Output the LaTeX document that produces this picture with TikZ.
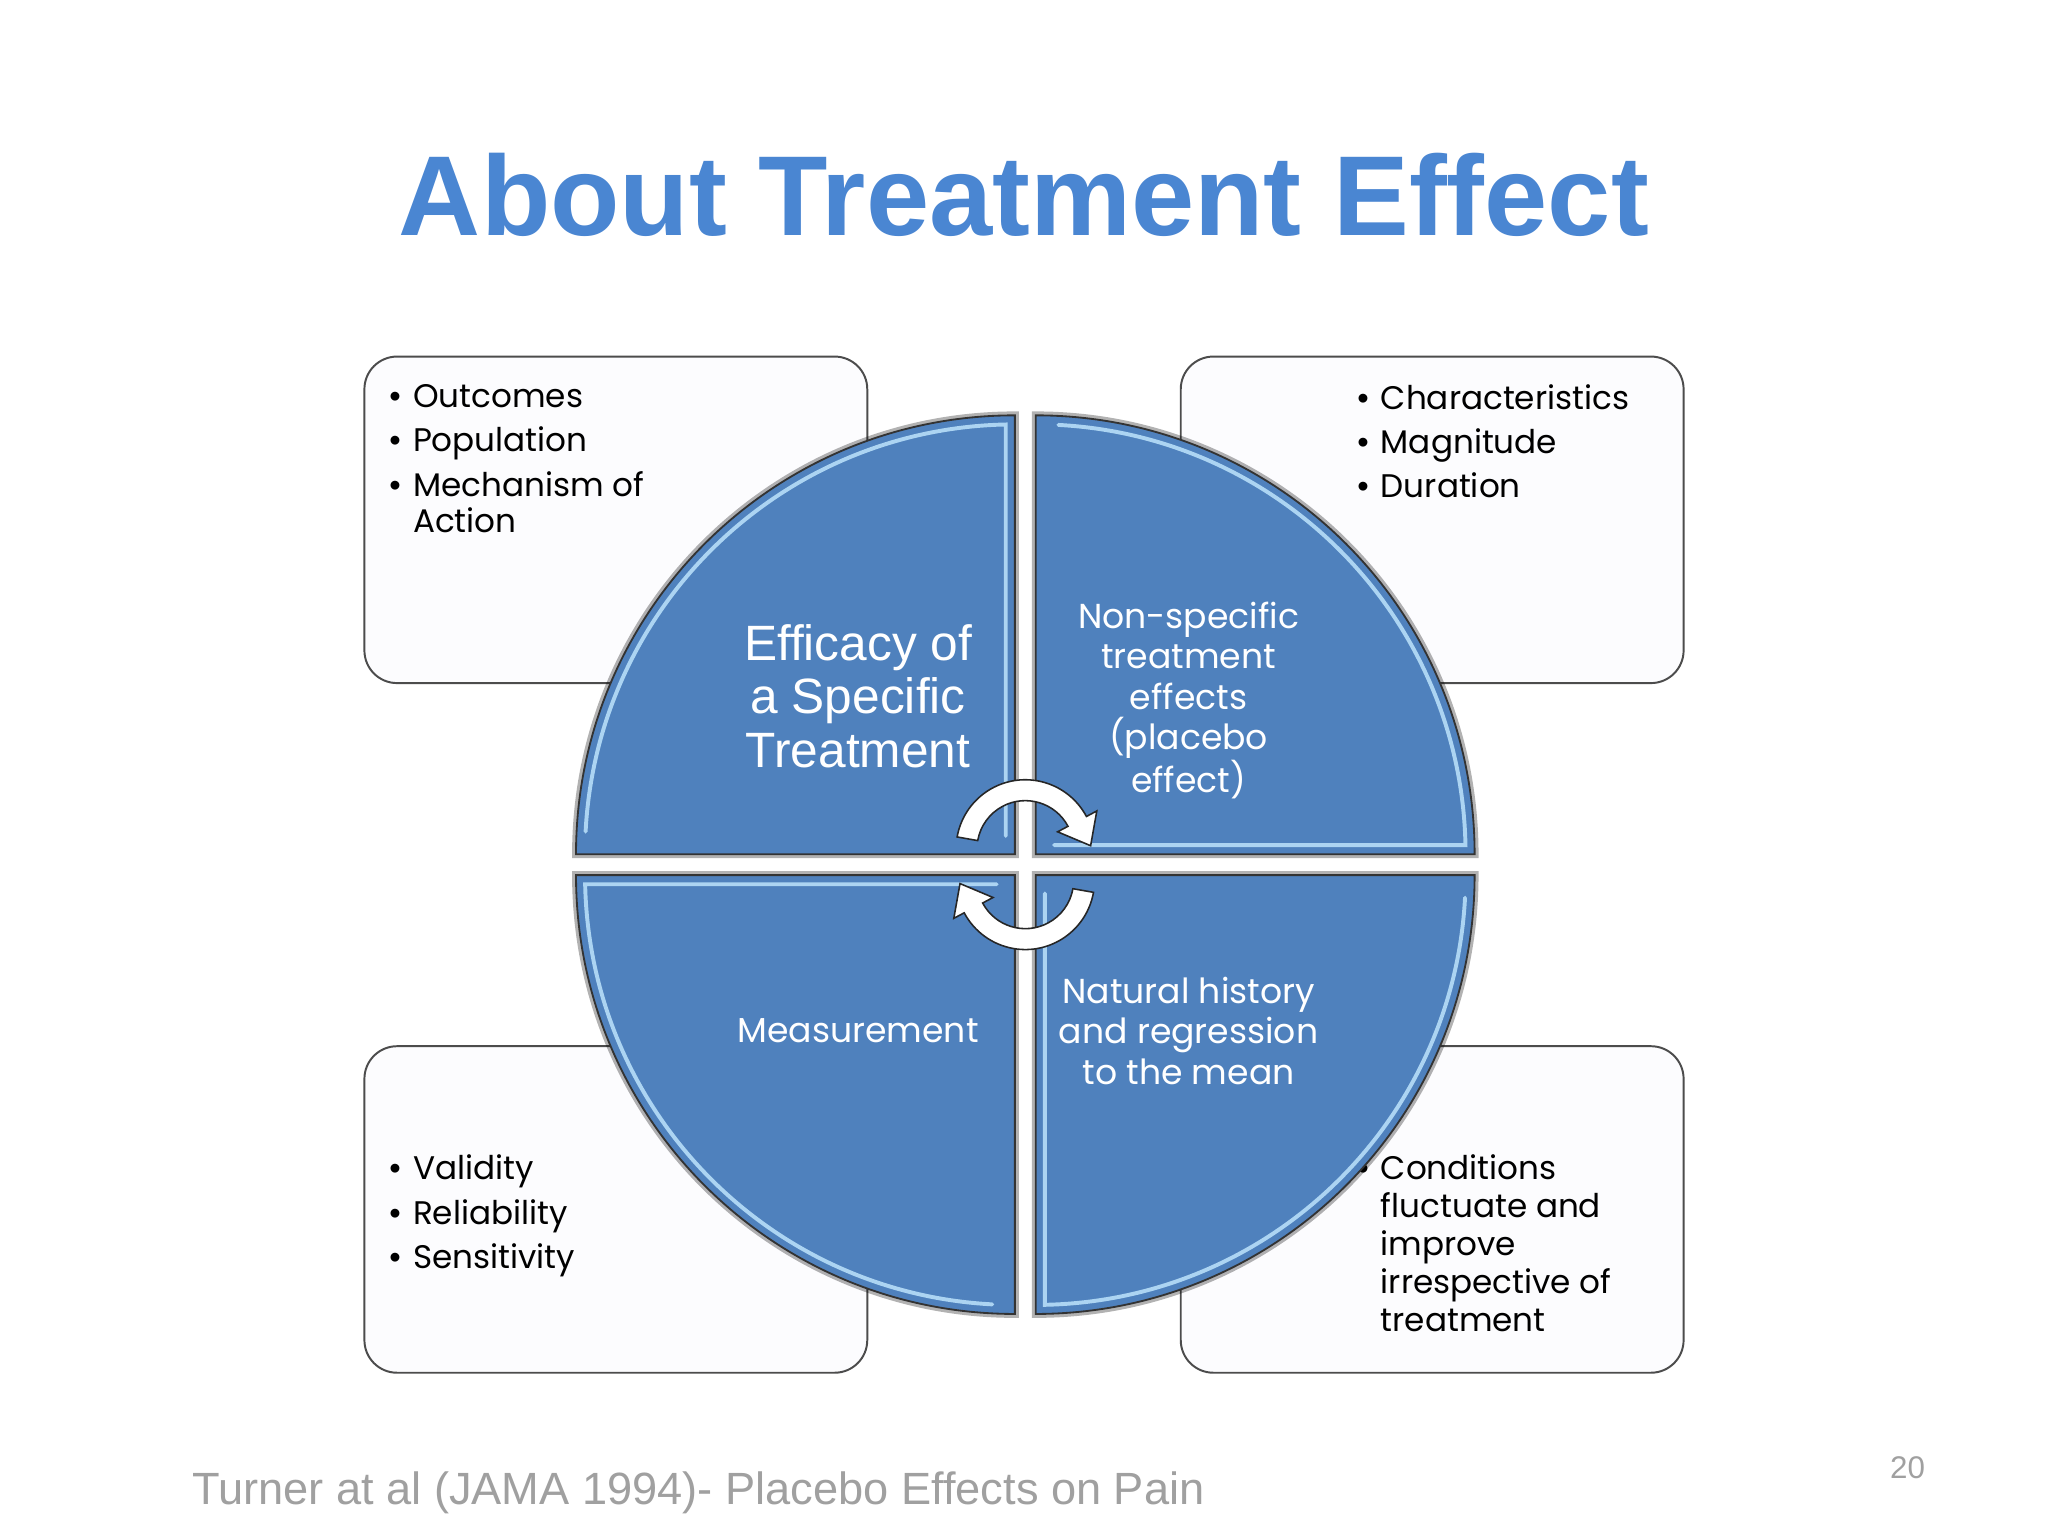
\documentclass[tikz,border=0pt]{standalone}
\usepackage{fontspec}
\setmainfont{Liberation Sans}
\newfontfamily\gothic{Poppins}
\usetikzlibrary{positioning}

\definecolor{titleblue}{RGB}{74,134,210}
\definecolor{sliceblue}{RGB}{79,129,189}
\definecolor{edgelight}{RGB}{172,212,242}
\definecolor{footgrey}{RGB}{160,160,160}
\definecolor{boxfill}{RGB}{252,252,254}

\newcommand\bul{\makebox[18pt][l]{\rmfamily\textbullet}}
\newcommand\cont{\hspace*{18pt}}

\tikzset{
  infobox/.style={draw=black!70, line width=1.5, fill=boxfill, rounded corners=25,
    minimum width=385, minimum height=250},
  listtext/.style={anchor=north west, inner sep=0, align=left,
    font=\gothic\fontsize{25}{28}\selectfont},
  slicetext/.style={text=white, align=center, inner sep=0,
    font=\gothic\fontsize{26.5}{31}\selectfont}
}

\begin{document}
\begin{tikzpicture}[x=1pt,y=1pt]
\useasboundingbox (0,0) rectangle (1568,1176);
\fill[white] (0,0) rectangle (1568,1176);

\def\slice#1;{%
    \begin{scope}[shift={(785,514)},rotate=#1]
        \draw[black, opacity=0.3, line width=6] (8,8) -- (344,8) arc (0:90:336) -- cycle;
        \filldraw[fill=sliceblue, draw=black!80, line width=1.4]
            (8,8) -- (344,8) arc (0:90:336) -- cycle;
        \draw[edgelight, line width=3, line cap=round] (22,15) -- (337,15) arc (1.2:87:329);
    \end{scope}}
\def\turn#1;{%
    \begin{scope}[shift={(785,514)},rotate=#1]
        \filldraw[fill=white, draw=black!85, line width=1.2]
            ([shift={(0,12)}]170:53) arc (170:28:53) -- ([shift={(0,12)}]28:62) --
            (50,14.5) -- ([shift={(0,12)}]28:28) -- ([shift={(0,12)}]28:37) arc (28:170:37) -- cycle;
    \end{scope}}

\node (title) [anchor=base, text=titleblue, font=\bfseries\fontsize{87}{90}\selectfont]
    at (784,996) {About Treatment Effect};

% the four boxes behind the circle
\node (tlbox) [infobox] at (471.5,778) {};
\node (trbox) [infobox] at (1096.5,778) {};
\node (blbox) [infobox] at (471.5,250) {};
\node (brbox) [infobox] at (1096.5,250) {};

\node (tllist) [listtext] at (298,882) {\bul Outcomes\\[6pt]\bul Population\\[6pt]\bul Mechanism of\\\cont Action};
\node (trlist) [listtext] at (1039,882) {\bul Characteristics\\[6pt]\bul Magnitude\\[6pt]\bul Duration};
\node (bllist) [listtext] at (298,292) {\bul Validity\\[6pt]\bul Reliability\\[6pt]\bul Sensitivity};
\node (brlist) [listtext, font=\gothic\fontsize{25}{29}\selectfont] at (1039,292)
    {\bul Conditions\\\cont fluctuate and\\\cont improve\\\cont irrespective of\\\cont treatment};

% circle in four slices
\slice0;
\slice90;
\slice180;
\slice270;

\node (efficacy) [text=white, align=center, inner sep=0, font=\fontsize{38}{41}\selectfont]
    at (657,643) {Efficacy of\\a Specific\\Treatment};
\node (nonspec) [slicetext] at (910,640) {Non-specific\\treatment\\effects\\(placebo\\effect)};
\node (measure) [slicetext] at (657,387) {Measurement};
\node (natural) [slicetext] at (910,387) {Natural history\\and regression\\to the mean};

\turn0;
\turn180;

\node (source) [anchor=base west, inner sep=0, text=footgrey, font=\fontsize{34.6}{36}\selectfont]
    at (147,24) {Turner at al (JAMA 1994)- Placebo Effects on Pain};
\node (pageno) [anchor=base west, inner sep=0, text=footgrey, font=\fontsize{24}{26}\selectfont]
    at (1447,44) {20};

\end{tikzpicture}
\end{document}
